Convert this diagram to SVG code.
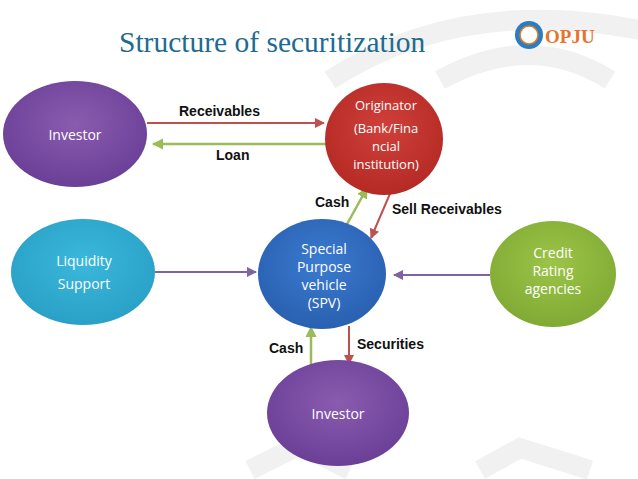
<svg xmlns="http://www.w3.org/2000/svg" width="638" height="479" viewBox="0 0 638 479">
<defs>
<style>
.lbl{font-family:"Liberation Sans",Arial,sans-serif;font-weight:bold;font-size:14px;fill:#111}
.nt{font-family:"Open Sans","DejaVu Sans",sans-serif;font-size:14px;fill:#fff;text-anchor:middle}
.sm{font-size:13px}
.red{stroke:#c0504d;stroke-width:2;fill:none;marker-end:url(#ar)}
.grn{stroke:#9bbb59;stroke-width:2.5;fill:none;marker-end:url(#ag)}
.pur{stroke:#8064a2;stroke-width:2;fill:none;marker-end:url(#ap)}
</style>
<marker id="ar" viewBox="0 0 10 10" refX="9" refY="5" markerWidth="5" markerHeight="5" orient="auto"><path d="M0,0L10,5L0,10z" fill="#c0504d"/></marker>
<marker id="ag" viewBox="0 0 10 10" refX="9" refY="5" markerWidth="4.5" markerHeight="4.5" orient="auto"><path d="M0,0L10,5L0,10z" fill="#9bbb59"/></marker>
<marker id="ap" viewBox="0 0 10 10" refX="9" refY="5" markerWidth="5" markerHeight="5" orient="auto"><path d="M0,0L10,5L0,10z" fill="#8064a2"/></marker>
<radialGradient id="gp" cx="0.5" cy="0.4" r="0.6"><stop offset="0" stop-color="#8a5cb0"/><stop offset="1" stop-color="#6a3f96"/></radialGradient>
<radialGradient id="gr" cx="0.5" cy="0.4" r="0.6"><stop offset="0" stop-color="#d0403a"/><stop offset="1" stop-color="#b52a25"/></radialGradient>
<radialGradient id="gb" cx="0.5" cy="0.4" r="0.6"><stop offset="0" stop-color="#3a7bd0"/><stop offset="1" stop-color="#2a60b0"/></radialGradient>
<radialGradient id="gc" cx="0.5" cy="0.4" r="0.6"><stop offset="0" stop-color="#3ab8dc"/><stop offset="1" stop-color="#2aa0c6"/></radialGradient>
<radialGradient id="gg" cx="0.5" cy="0.4" r="0.6"><stop offset="0" stop-color="#9cc448"/><stop offset="1" stop-color="#80aa34"/></radialGradient>
</defs>
<rect width="638" height="479" fill="#fff"/>
<g fill="none" stroke="#f1f1f1" stroke-width="20">
<path d="M330,80 Q460,-5 640,30"/>
<path d="M440,80 Q530,30 610,80"/>
<path d="M250,470 L300,445 L350,470"/>
<path d="M480,470 L520,448 L590,470"/>
</g>
<text x="119" y="52" font-family="'Liberation Serif',serif" font-size="29.5" fill="#1e6b8f">Structure of securitization</text>
<g id="logo">
<circle cx="529" cy="35" r="14" fill="#2a7dc0"/>
<circle cx="529" cy="35" r="9" fill="#fff" stroke="#e07a2a" stroke-width="1.5"/>
<text x="545" y="43" font-family="'Liberation Serif',serif" font-weight="bold" font-size="19" fill="#e8732a">OPJU</text>
</g>
<g id="connectors">
<line class="red" x1="147" y1="123" x2="324" y2="123"/>
<line class="grn" x1="328" y1="144" x2="153" y2="144"/>
<line class="grn" x1="346" y1="226" x2="367" y2="188"/>
<line class="red" x1="392" y1="189" x2="371" y2="238"/>
<line class="pur" x1="155" y1="272" x2="256" y2="272"/>
<line class="pur" x1="490" y1="275" x2="394" y2="275"/>
<line class="grn" x1="311" y1="366" x2="311" y2="327"/>
<line class="red" x1="349" y1="326" x2="349" y2="364"/>
<text class="lbl" x="179" y="116">Receivables</text>
<text class="lbl" x="216" y="160">Loan</text>
<text class="lbl" x="315" y="207">Cash</text>
<text class="lbl" x="392" y="214">Sell  Receivables</text>
<text class="lbl" x="269" y="353">Cash</text>
<text class="lbl" x="357" y="349">Securities</text>
</g>
<g id="investor-top"><ellipse cx="75" cy="134" rx="72" ry="53" fill="url(#gp)"/><text class="nt" x="75" y="140">Investor</text></g>
<g id="originator"><ellipse cx="384" cy="139" rx="59" ry="56" fill="url(#gr)"/>
<text class="nt sm" x="386" y="110">Originator</text><text class="nt sm" x="386" y="133">(Bank/Fina</text><text class="nt sm" x="386" y="151">ncial</text><text class="nt sm" x="386" y="169">institution)</text></g>
<g id="spv"><ellipse cx="322" cy="274" rx="64" ry="55" fill="url(#gb)"/>
<text class="nt" x="324" y="254">Special</text><text class="nt" x="324" y="272">Purpose</text><text class="nt" x="324" y="290">vehicle</text><text class="nt" x="324" y="308">(SPV)</text></g>
<g id="liquidity"><ellipse cx="83" cy="272" rx="72" ry="53" fill="url(#gc)"/>
<text class="nt" x="84" y="266">Liquidity</text><text class="nt" x="84" y="289">Support</text></g>
<g id="credit"><ellipse cx="553" cy="274" rx="63" ry="53" fill="url(#gg)"/>
<text class="nt" x="553" y="258">Credit</text><text class="nt" x="553" y="276">Rating</text><text class="nt" x="553" y="294">agencies</text></g>
<g id="investor-bottom"><ellipse cx="338" cy="413" rx="71" ry="53" fill="url(#gp)"/><text class="nt" x="338" y="419">Investor</text></g>
</svg>
